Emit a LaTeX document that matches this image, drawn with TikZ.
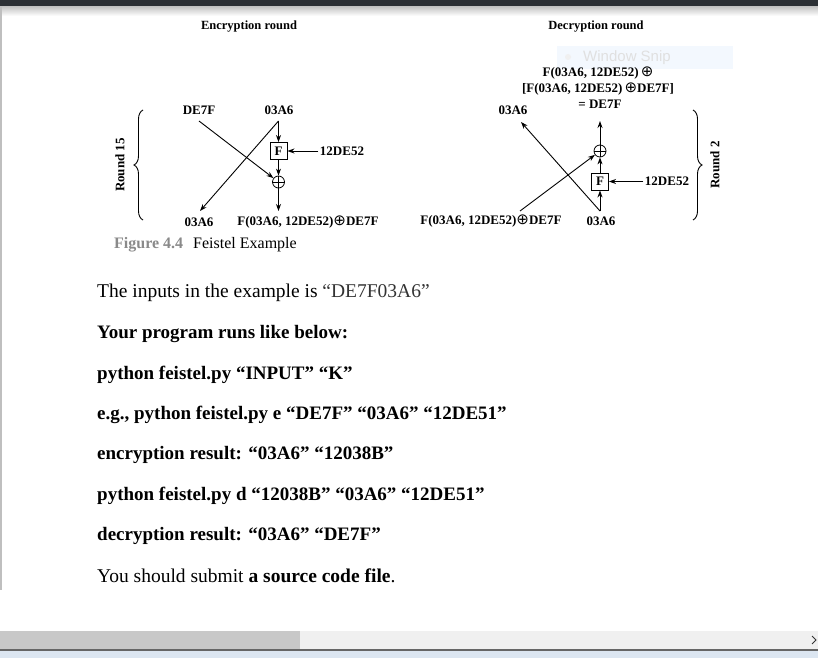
\documentclass[tikz,border=0pt]{standalone}
\usepackage{fontspec}
\setmainfont{Liberation Serif}
\newfontfamily\uifont{Liberation Sans}
\newfontfamily\symf{DejaVu Sans}
\newcommand\myxor{\raisebox{-0.5pt}{\symf\mdseries\fontsize{15}{15}\selectfont ⊕}}
\usetikzlibrary{arrows.meta,decorations.pathreplacing,calc}
\definecolor{topbar}{HTML}{2C3035}
\definecolor{thumb}{HTML}{C8C8C8}
\definecolor{track}{HTML}{F0F0F0}
\definecolor{taskbar}{HTML}{DCE6F1}
\definecolor{snipbg}{HTML}{F3F8FE}
\definecolor{figgray}{HTML}{8A8A8A}
\tikzset{
  lbl/.style={font=\fontsize{13}{15}\selectfont\bfseries, inner sep=1.5pt},
  ttl/.style={font=\fontsize{12.5}{15}\selectfont\bfseries, inner sep=1pt},
  fbox/.style={draw, line width=0.9pt, minimum width=17pt, minimum height=17pt, inner sep=0pt, font=\fontsize{13}{15}\selectfont\bfseries},
  xorc/.style={draw, circle, line width=0.8pt, minimum size=12pt, inner sep=0pt,
    path picture={\draw[line width=0.7pt] (path picture bounding box.north) -- (path picture bounding box.south) (path picture bounding box.west) -- (path picture bounding box.east);}},
  arr/.style={line width=0.9pt, -{Stealth[length=7pt,width=5pt]}},
  brc/.style={line width=0.9pt, decorate, decoration={brace, amplitude=9pt}},
  body/.style={anchor=base west, inner sep=0pt, font=\fontsize{19.5}{22}\selectfont},
  bodyb/.style={anchor=base west, inner sep=0pt, font=\fontsize{19}{22}\selectfont\bfseries},
  rnd/.style={font=\fontsize{13}{15}\selectfont\bfseries, rotate=90, inner sep=0pt}
}
\begin{document}
\begin{tikzpicture}[x=1pt,y=-1pt]
\useasboundingbox (0,0) rectangle (818,658);
\fill[white] (0,0) rectangle (818,658);
% window chrome
\fill[topbar] (0,0) rectangle (818,7);
\shade[top color=black!22, bottom color=white] (0,7) rectangle (818,16);
\fill[black!25] (0,7) rectangle (1.5,590);
\fill[thumb] (0,631) rectangle (300,649);
\fill[track] (300,631) rectangle (818,649);
\fill[black!60] (0,649) rectangle (818,650.5);
\fill[taskbar] (0,650.5) rectangle (818,658);
\draw[black!80, line width=1pt] (812,636) -- (816,640) -- (812,644);
% window snip overlay
\fill[snipbg] (557,46) rectangle (733,69);
\fill[black!6] (568,57) circle (3);
\node[font=\uifont\fontsize{15}{17}\selectfont, text=black!12, inner sep=0pt] (snip) at (627,58) {Window Snip};

% ---------- Encryption round ----------
\node[ttl] (etitle) at (249,27) {Encryption round};
\node[lbl] (eL) at (199,110) {DE7F};
\node[lbl] (eR) at (279,110) {03A6};
\coordinate (eRp) at (278.5,121);
\node[fbox] (eF) at (278.5,151) {F};
\node[xorc] (eX) at (278.5,182) {};
\node[lbl] (eK) at (342,151) {12DE52};
\node[lbl] (eOL) at (199,222) {03A6};
\node[lbl] (eOR) at (308,222) {F(03A6, 12DE52)\myxor DE7F};
\draw[arr] (199,121) -- (eX);
\draw[arr] (eRp) -- (eF);
\draw[arr] (eRp) -- (200,211);
\draw[arr] (eK.west) -- (eF.east);
\draw[arr] (eF) -- (eX);
\draw[arr] (eX) -- (278.5,211);
\draw[brc] (143,220) -- (143,110);
\node[rnd] (r15) at (120,165) {Round 15};
\node[anchor=base west, inner sep=0pt, font=\fontsize{16}{18}\selectfont\bfseries, text=figgray] (figno) at (114,248) {Figure 4.4};
\node[anchor=base west, inner sep=0pt, font=\fontsize{16}{18}\selectfont] (figcap) at (193,248) {Feistel Example};

% ---------- Decryption round ----------
\node[ttl] (dtitle) at (596,27) {Decryption round};
\node[lbl] (dT1) at (598,73) {F(03A6, 12DE52)\,\myxor};
\node[lbl] (dT2) at (598,89) {[F(03A6, 12DE52)\,\myxor DE7F]};
\node[lbl] (dT3) at (600,104) {= DE7F};
\node[lbl] (dL) at (513,110) {03A6};
\node[xorc] (dX) at (600,151) {};
\node[fbox] (dF) at (600,181.5) {F};
\node[lbl] (dK) at (667,181.5) {12DE52};
\node[lbl] (dOL) at (491,221) {F(03A6, 12DE52)\myxor DE7F};
\node[lbl] (dOR) at (601,221) {03A6};
\coordinate (dRp) at (600,211);
\coordinate (dLp) at (520,211);
\draw[arr] (dRp) -- (dF);
\draw[arr] (dRp) -- (521,122);
\draw[arr] (dLp) -- (dX);
\draw[arr] (dF) -- (dX);
\draw[arr] (dX) -- (600,121);
\draw[arr] (dK.west) -- (dF.east);
\draw[brc] (693,110) -- (693,220);
\node[rnd] (r2) at (715,165) {Round 2};

% ---------- text ----------
\node[body] (t1) at (97,297) {The inputs in the example is \textcolor{black!80}{“DE7F03A6”}};
\node[bodyb] (t2) at (97,338) {Your program runs like below:};
\node[bodyb] (t3) at (97,379) {python feistel.py “INPUT” “K”};
\node[bodyb] (t4) at (97,419) {e.g., python feistel.py e “DE7F” “03A6” “12DE51”};
\node[bodyb] (t5) at (97,459) {encryption result: “03A6” “12038B”};
\node[bodyb] (t6) at (97,500) {python feistel.py d “12038B” “03A6” “12DE51”};
\node[bodyb] (t7) at (97,540) {decryption result: “03A6” “DE7F”};
\node[body] (t8) at (97,582) {You should submit \textbf{a source code file}.};
\end{tikzpicture}
\end{document}
